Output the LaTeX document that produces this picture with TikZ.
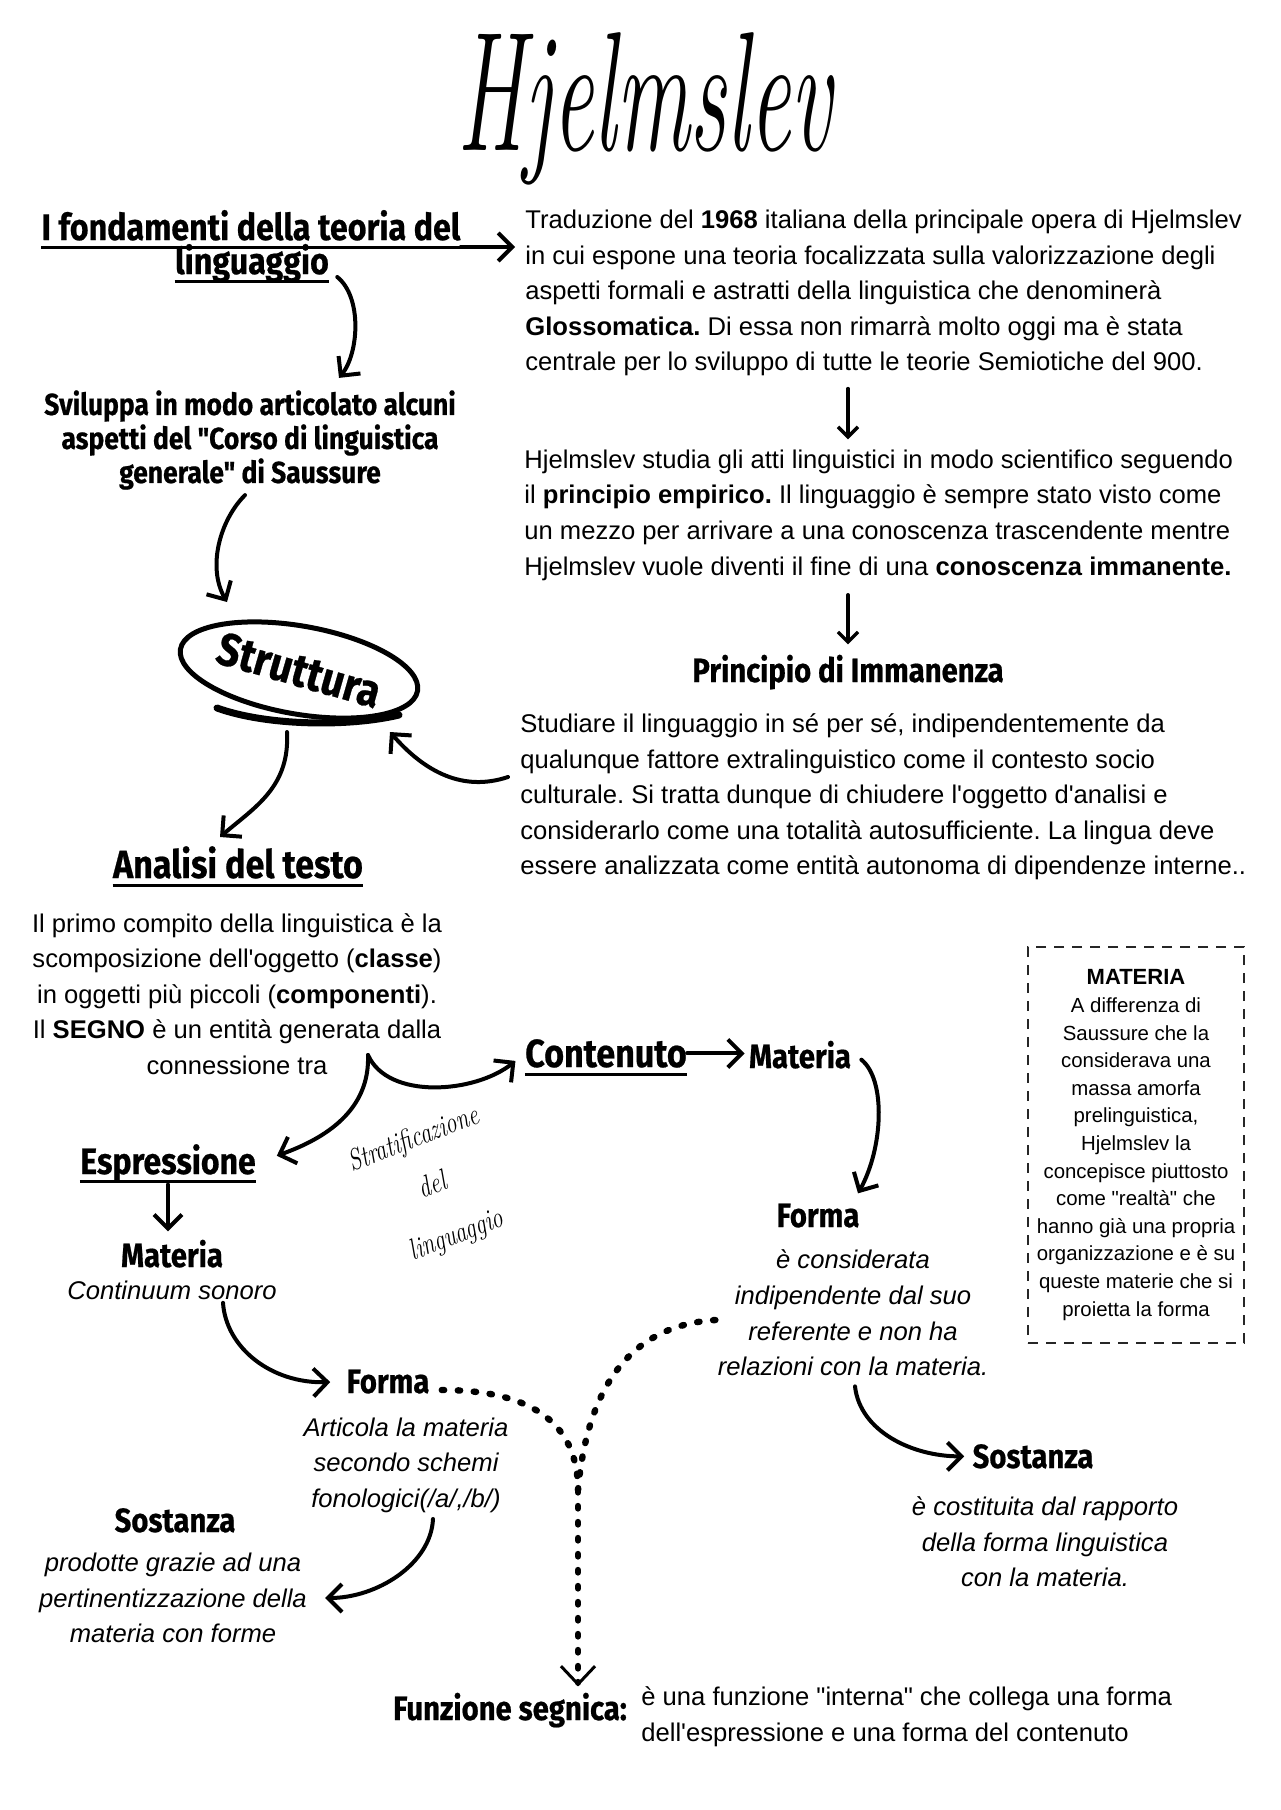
\documentclass[tikz,border=0pt]{standalone}
\usepackage{graphicx}
\usepackage{fontspec}
\setmainfont{Liberation Sans}[Ligatures=TeXOff]
\newfontfamily\handfont{Fira Sans}[FakeStretch=0.87, FakeBold=0.6]
\newfontfamily\lmfont{Latin Modern Roman}
\usetikzlibrary{arrows.meta,shapes.geometric}

\tikzset{
  titletext/.style={font=\lmfont\itshape\fontsize{85}{88}\selectfont, inner sep=0pt, anchor=base},
  hand/.style={font=\handfont\bfseries\fontsize{16.8}{17}\selectfont, inner sep=0pt, anchor=base},
  midhand/.style={hand, font=\handfont\bfseries\fontsize{18.5}{20}\selectfont},
  bighand/.style={hand, font=\handfont\bfseries\fontsize{19.6}{22}\selectfont},
  body/.style={font=\fontsize{12.8}{17.8}\selectfont, inner sep=0pt, align=left, anchor=west},
  itbody/.style={font=\itshape\fontsize{12.8}{17.8}\selectfont, inner sep=0pt, align=center},
  strutbox/.style={ellipse, draw, line width=2.5pt, minimum width=115pt, minimum height=44pt,
    inner sep=0pt, rotate=-10, font=\handfont\bfseries\fontsize{23}{24}\selectfont},
  matbox/.style={draw=black!85, line width=1.4pt, dash pattern=on 5pt off 4pt,
    minimum width=108pt, minimum height=198pt, inner sep=0pt, align=center,
    font=\fontsize{10.2}{13.8}\selectfont},
  strat/.style={font=\lmfont\itshape\fontsize{13}{14}\selectfont, inner sep=0pt, rotate=21},
  harrow/.style={line width=2pt, line cap=round, line join=round, -{Straight Barb[length=7pt,width=14pt]}},
  sarrow/.style={line width=1.7pt, line cap=round, -{Straight Barb[length=5pt,width=10pt]}},
  uline/.style={line width=1.5pt},
  dotline/.style={line width=3.2pt, line cap=round, dash pattern=on 1.2pt off 6.8pt},
}

\begin{document}
\frenchspacing
\begin{tikzpicture}[x=0.5pt,y=-0.5pt]
\useasboundingbox (0,0) rectangle (1280,1810);
\fill[white] (0,0) rectangle (1280,1810);

% title
\node[titletext] (title) at (645,150) {\scalebox{0.54}[1]{Hjelmslev}};

% left column
\node[midhand] (fond1) at (251,240) {I fondamenti della teoria del};
\node[midhand] (fond2) at (252,274) {linguaggio};
\node[hand, align=center, anchor=center, font=\handfont\bfseries\fontsize{15.2}{17}\selectfont] (svil) at (250,440)
  {Sviluppa in modo articolato alcuni\\aspetti del "Corso di linguistica\\generale" di Saussure};
\node[strutbox] (strut) at (299,670) {\rotatebox{-6}{Struttura}};
\node[bighand] (analisi) at (238,878) {Analisi del testo};
\node[body, align=center, anchor=center] (compito) at (237,994)
  {Il primo compito della linguistica è la\\
   scomposizione dell'oggetto (\textbf{classe})\\
   in oggetti più piccoli (\textbf{componenti}).\\
   Il \textbf{SEGNO} è un entità generata dalla\\
   connessione tra};

% right column
\node[body] (trad) at (525,293)
  {Traduzione del \textbf{1968} italiana della principale opera di Hjelmslev\\
   in cui espone una teoria focalizzata sulla valorizzazione degli\\
   aspetti formali e astratti della linguistica che denominerà\\
   \textbf{Glossomatica.} Di essa non rimarrà molto oggi ma è stata\\
   centrale per lo sviluppo di tutte le teorie Semiotiche del 900.};
\node[body] (empir) at (524,515)
  {Hjelmslev studia gli atti linguistici in modo scientifico seguendo\\
   il \textbf{principio empirico.} Il linguaggio è sempre stato visto come\\
   un mezzo per arrivare a una conoscenza trascendente mentre\\
   Hjelmslev vuole diventi il fine di una \textbf{conoscenza immanente.}};
\node[hand] (immhead) at (848,682) {Principio di Immanenza};
\node[body] (imm) at (520,797)
  {Studiare il linguaggio in sé per sé, indipendentemente da\\
   qualunque fattore extralinguistico come il contesto socio\\
   culturale. Si tratta dunque di chiudere l'oggetto d'analisi e\\
   considerarlo come una totalità autosufficiente. La lingua deve\\
   essere analizzata come entità autonoma di dipendenze interne..};

% contenuto
\node[bighand] (contenuto) at (606,1067) {Contenuto};
\node[hand] (cmat) at (800,1068) {Materia};
\node[hand] (cforma) at (818,1227) {Forma};
\node[itbody] (cformatxt) at (853,1313)
  {è considerata\\indipendente dal suo\\referente e non ha\\relazioni con la materia.};
\node[hand] (csost) at (1033,1468) {Sostanza};
\node[itbody] (csosttxt) at (1045,1542)
  {è costituita dal rapporto\\della forma linguistica\\con la materia.};
\node[matbox] (materia) at (1136,1145)
  {\textbf{\fontsize{11}{13.8}\selectfont MATERIA}\\A differenza di\\Saussure che la\\considerava una\\
   massa amorfa\\prelinguistica,\\Hjelmslev la\\concepisce piuttosto\\come "realtà" che\\
   hanno già una propria\\organizzazione e è su\\queste materie che si\\proietta la forma};

% espressione
\node[bighand, font=\handfont\bfseries\fontsize{18.4}{20}\selectfont] (espr) at (168,1174) {Espressione};
\node[hand] (emat) at (172,1267) {Materia};
\node[itbody] (ematxt) at (172,1290) {Continuum sonoro};
\node[hand] (eforma) at (388,1393) {Forma};
\node[itbody] (eformatxt) at (406,1465)
  {Articola la materia\\secondo schemi\\fonologici(/a/,/b/)};
\node[hand] (esost) at (175,1532) {Sostanza};
\node[itbody] (esosttxt) at (173,1598)
  {prodotte grazie ad una\\pertinentizzazione della\\materia con forme};

\node[strat] (strat1) at (414,1140) {\scalebox{0.88}[1.15]{Stratificazione}};
\node[strat] (strat2) at (432,1184) {\scalebox{0.88}[1.15]{del}};
\node[strat] (strat3) at (457,1236) {\scalebox{0.88}[1.15]{linguaggio}};

\node[hand] (funz) at (510,1720) {Funzione segnica:};
\node[body] (funztxt) at (641,1717)
  {è una funzione "interna" che collega una forma\\dell'espressione e una forma del contenuto};

% underlines
\foreach \h in {fond1,fond2,analisi,contenuto,espr}
  \draw[uline] ([yshift=-3.5pt]\h.base west) -- ([yshift=-3.5pt]\h.base east);
\draw[line width=3.5pt, line cap=round]
  ([shift={(-82,38)}]strut.center) .. controls +(50,18) and +(-50,12) .. ([shift={(100,45)}]strut.center);

% connectors
\coordinate (fork) at ([shift={(131,61)}]compito.center);
\coordinate (merge) at ([shift={(68,-230)}]funz.base);

\draw[harrow, shorten >=5pt] ([yshift=-3.5pt]fond1.base east) -- ([yshift=-3.5pt]fond1.base east -| trad.west);
\draw[harrow] ([shift={(8,3)}]fond2.base east) .. controls +(25,20) and +(20,-25) .. ([shift={(89,-12)}]svil.north);
\draw[harrow] ([shift={(-5,5)}]svil.south) .. controls +(-25,25) and +(-20,-35) .. ([shift={(-72,-68)}]strut.center);
\draw[harrow] ([shift={(-12,62)}]strut.center) .. controls +(3,55) and +(35,-30) .. ([shift={(-18,-41)}]analisi.base);
\draw[harrow] ([shift={(-12,-20)}]imm.west) .. controls +(-45,15) and +(35,40) .. ([shift={(91,62)}]strut.center);
\draw[sarrow, shorten <=6pt, shorten >=5pt] (immhead.north |- trad.south) -- (immhead.north |- empir.north);
\draw[sarrow, shorten <=7pt, shorten >=5pt] (empir.south -| immhead.north) -- (immhead.north);

\draw[harrow, shorten >=6pt] (fork) .. controls +(20,45) and +(-50,40) .. (contenuto.west);
\draw[harrow, shorten >=11pt] (fork) .. controls +(2,55) and +(70,-25) .. (espr.east);
\draw[harrow, shorten >=2pt] (contenuto.east) -- (contenuto.east -| cmat.west);
\draw[harrow] ([shift={(10,5)}]cmat.east) .. controls +(25,20) and +(25,-45) .. ([shift={(40,-10)}]cforma.north);
\draw[harrow, shorten <=1pt, shorten >=4pt] (espr.south) -- (espr.south |- emat.north);
\draw[harrow, shorten >=8pt] ([shift={(51,3)}]ematxt.south) .. controls +(3,45) and +(-75,2) .. (eforma.west);
\draw[harrow, shorten >=9pt] ([shift={(27,6)}]eformatxt.south) .. controls +(-2,45) and +(70,0) .. (esosttxt.east);
\draw[harrow, shorten >=4pt] ([shift={(2,10)}]cformatxt.south) .. controls +(5,45) and +(-60,0) .. (csost.west);

% funzione segnica
\draw[dotline] ([shift={(12,-3)}]eforma.base east) .. controls +(85,0) and +(0,-70) .. (merge);
\draw[dotline] ([shift={(-2,7)}]cformatxt.west) .. controls +(-80,5) and +(10,-110) .. (merge);
\draw[dotline, shorten >=3pt, -{Straight Barb[length=9pt,width=17pt,line width=1.5pt]}] (merge) -- (merge |- funz.north);
\end{tikzpicture}
\end{document}
